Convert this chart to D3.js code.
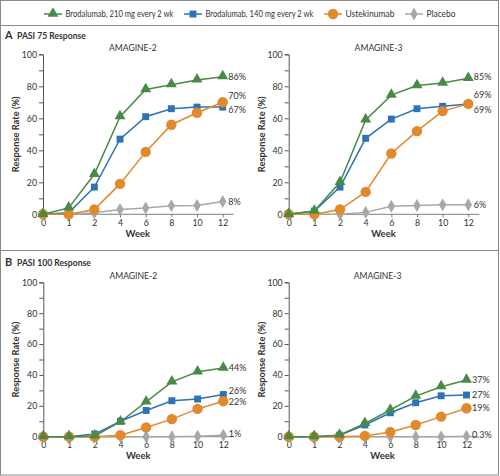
<!DOCTYPE html>
<html>
<head>
<meta charset="utf-8">
<script src="https://cdn.jsdelivr.net/npm/d3@7"></script>
<style>
body { margin: 0; background: #fff; }
text { font-family: Lato, "Open Sans", sans-serif; fill: #333; }
</style>
</head>
<body>
<svg width="500" height="476"></svg>
<script>
const weeks = ["0", "1", "2", "4", "6", "8", "10", "12"];
const seriesNames = ["Brodalumab, 210 mg every 2 wk", "Brodalumab, 140 mg every 2 wk", "Ustekinumab", "Placebo"];
const colors = ["#4a8a47", "#2e73b6", "#e0892d", "#a8a8a8"];
const yTicks = [0, 20, 40, 60, 80, 100];

// PASI 75, AMAGINE-2
const a2Bro210 = [0, 4, 25, 61, 78, 81, 84, 86];
const a2Bro140 = [0, 1, 17, 47, 61, 66, 67, 67];
const a2Ustek = [0, 0, 3, 19, 39, 56, 63.5, 70];
const a2Placebo = [0, 0, 1, 3, 4, 5.4, 5.5, 8];
const a2Labels = ["86%", "67%", "70%", "8%"];

// PASI 75, AMAGINE-3
const a3Bro210 = [0, 2, 20, 59, 74.5, 80.5, 82, 85];
const a3Bro140 = [0, 2, 17, 47.5, 59.5, 66, 67.5, 69];
const a3Ustek = [0, 0, 3, 14, 38, 52, 64.5, 69];
const a3Placebo = [0, 0, 0, 1.2, 5, 5.5, 6, 6];
const a3Labels = ["85%", "69%", "69%", "6%"];

// PASI 100, AMAGINE-2
const b2Bro210 = [0, 0, 0.5, 9.7, 22.5, 35.5, 42, 44.5];
const b2Bro140 = [0, 0, 1.7, 10, 17, 23.3, 24.4, 27.3];
const b2Ustek = [0, 0, 0, 1, 6, 11.4, 18, 23];
const b2Placebo = [0, 0, 0, 0, 0, 0, 0.3, 1];
const b2Labels = ["44%", "26%", "22%", "1%"];

// PASI 100, AMAGINE-3
const b3Bro210 = [0, 0, 1, 8.6, 17.3, 26.3, 32.4, 36.7];
const b3Bro140 = [0, 0, 1, 7.6, 15.5, 22, 26.5, 27];
const b3Ustek = [0, 0, 0, 0.5, 3, 7.6, 13, 18.4];
const b3Placebo = [0, 0, 0, 0, 0, 0, 0, 0.3];
const b3Labels = ["37%", "27%", "19%", "0.3%"];

const svg = d3.select("svg");

// frame
svg.append("rect").attr("x", 0.5).attr("y", 0.5).attr("width", 498).attr("height", 474.5)
  .attr("fill", "none").attr("stroke", "#8a8a8a");
svg.append("line").attr("x1", 0).attr("x2", 499).attr("y1", 25.5).attr("y2", 25.5).attr("stroke", "#8a8a8a");
svg.append("line").attr("x1", 0).attr("x2", 499).attr("y1", 250.5).attr("y2", 250.5).attr("stroke", "#8a8a8a");

function marker(sel, i, color) {
  if (i === 2) {
    sel.append("circle").attr("r", 5.2).attr("fill", color);
  } else {
    const type = [d3.symbolTriangle, d3.symbolSquare, null, d3.symbolDiamond][i];
    const size = [52, 48, 0, 48][i];
    sel.append("path").attr("d", d3.symbol().type(type).size(size)()).attr("fill", color)
      .attr("transform", i === 0 ? "translate(0,-0.5)" : null);
  }
}

// legend
const legendX = [44, 184, 324, 405];
const legendW = [108, 108, 49, 29];
seriesNames.forEach((name, i) => {
  const g = svg.append("g").attr("transform", `translate(${legendX[i]},14)`);
  g.append("line").attr("x1", 0).attr("x2", 18).attr("stroke", colors[i]).attr("stroke-width", 1.5);
  marker(g.append("g").attr("transform", "translate(9,0)"), i, colors[i]);
  g.append("text").attr("x", 21.5).attr("y", 3.2).attr("font-size", 8.6)
    .attr("textLength", legendW[i]).attr("lengthAdjust", "spacingAndGlyphs").text(name);
});

// section titles
[["A", "PASI 75 Response", 39], ["B", "PASI 100 Response", 266]].forEach(([letter, title, y]) => {
  svg.append("text").attr("x", 5).attr("y", y).attr("font-size", 11).attr("font-weight", "bold").text(letter);
  svg.append("text").attr("x", 17).attr("y", y).attr("font-size", 8.6).attr("font-weight", "bold").text(title);
});

const panels = [
  { name: "AMAGINE-2", x0: 43, x1: 222.7, y0: 214.3, y1: 54.3, titleY: 51, weekY: 237,
    data: [a2Bro210, a2Bro140, a2Ustek, a2Placebo], labels: a2Labels, labelDy: [0, 2.5, -7, 0] },
  { name: "AMAGINE-3", x0: 288.7, x1: 468.3, y0: 214.3, y1: 54.3, titleY: 51, weekY: 237,
    data: [a3Bro210, a3Bro140, a3Ustek, a3Placebo], labels: a3Labels, labelDy: [-1.5, -9, 6, 0] },
  { name: "AMAGINE-2", x0: 43.3, x1: 223.3, y0: 436.7, y1: 282.3, titleY: 279, weekY: 459,
    data: [b2Bro210, b2Bro140, b2Ustek, b2Placebo], labels: b2Labels, labelDy: [-0.5, -3.5, 1, -1] },
  { name: "AMAGINE-3", x0: 288.7, x1: 466.5, y0: 436.7, y1: 282.3, titleY: 279, weekY: 459,
    data: [b3Bro210, b3Bro140, b3Ustek, b3Placebo], labels: b3Labels, labelDy: [0, 0, 0, -1] }
];

panels.forEach(p => {
  const x = d3.scalePoint().domain(weeks).range([p.x0, p.x1]);
  const y = d3.scaleLinear().domain([0, 100]).range([p.y0, p.y1]);
  const g = svg.append("g");

  g.append("text").attr("x", (p.x0 + p.x1) / 2 - 0).attr("y", p.titleY).attr("text-anchor", "middle")
    .attr("font-size", 8.6).text(p.name);

  // y axis
  const yAxis = g.append("g").attr("transform", `translate(${p.x0},0)`)
    .call(d3.axisLeft(y).tickValues(d3.range(0, 101, 10)).tickSize(4).tickPadding(2)
      .tickFormat(d => yTicks.includes(d) ? d : ""));
  yAxis.select(".domain").attr("stroke", "#555");
  yAxis.selectAll(".tick line").attr("stroke", "#555");
  yAxis.selectAll("text").attr("font-size", 8.8).attr("fill", "#444").attr("font-family", "Lato, sans-serif");

  // x axis
  const xAxis = g.append("g").attr("transform", `translate(0,${p.y0})`)
    .call(d3.axisBottom(x).tickSize(3).tickPadding(2).tickSizeOuter(0));
  xAxis.select(".domain").attr("d", `M${p.x0},0H${p.x1 + 11}`).attr("stroke", "#999").attr("stroke-width", 1.3);
  xAxis.selectAll(".tick line").attr("stroke", "#777");
  xAxis.selectAll("text").attr("font-size", 8.8).attr("fill", "#444").attr("font-family", "Lato, sans-serif");

  g.append("text").attr("x", (p.x0 + p.x1) / 2 + 5).attr("y", p.weekY).attr("text-anchor", "middle")
    .attr("font-size", 9.5).attr("font-weight", "bold").text("Week");

  g.append("text").attr("transform", `translate(${p.x0 - 24},${(p.y0 + p.y1) / 2}) rotate(-90)`)
    .attr("text-anchor", "middle").attr("font-size", 9.3).attr("font-weight", "bold").text("Response Rate (%)");

  const line = d3.line().x((d, i) => x(weeks[i])).y(d => y(d));
  [3, 1, 2, 0].forEach(si => {
    const vals = p.data[si];
    g.append("path").attr("d", line(vals)).attr("fill", "none").attr("stroke", colors[si]).attr("stroke-width", 1.5);
    vals.forEach((v, i) => {
      marker(g.append("g").attr("transform", `translate(${x(weeks[i])},${y(v)})`), si, colors[si]);
    });
  });

  p.labels.forEach((lab, si) => {
    const vals = p.data[si];
    g.append("text").attr("x", x("12") + 5.5).attr("y", y(vals[vals.length - 1]) + p.labelDy[si] + 3.2)
      .attr("font-size", 9).attr("fill", "#444").text(lab);
  });
});
</script>
</body>
</html>
